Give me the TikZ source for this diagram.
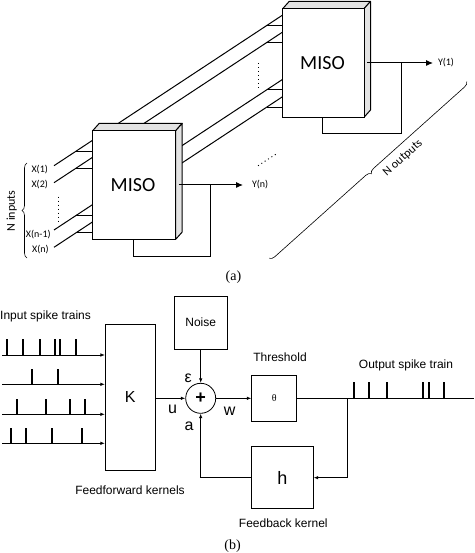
\documentclass[tikz,border=0pt]{standalone}
\usepackage{fontspec}
\setmainfont{Liberation Sans}
\newfontfamily\calibri{Carlito}
\newfontfamily\timesf{Liberation Serif}
\usetikzlibrary{arrows.meta,decorations.pathreplacing}

\tikzset{
  wire/.style={line width=1pt},
  face/.style={draw, line width=1pt, fill=gray!22, line join=round},
  outarrow/.style={wire, -{Latex[length=7pt,width=6pt]}},
  sig/.style={line width=0.8pt, -{Latex[length=4.5pt,width=3.5pt]}},
  block/.style={draw, line width=0.8pt, inner sep=0pt},
  spike/.style={line width=1.9pt},
  lbl/.style={font=\calibri\fontsize{10}{12}\selectfont, inner sep=0pt},
  txt/.style={font=\fontsize{12}{14}\selectfont, inner sep=0pt},
  letter/.style={font=\fontsize{16}{18}\selectfont, inner sep=0pt},
  dots/.style={line width=0.9pt, dash pattern=on 1pt off 3pt},
}

\begin{document}
\begin{tikzpicture}[x=1pt, y=-1pt]
  \newcommand{\MisoBox}[4]{% left, top, right, bottom
    \filldraw[face] (#1,#2) -- ++(6.5,-7.3) -- (#3+6.5,#2-7.3) -- (#3,#2) -- cycle;
    \filldraw[face] (#3,#2) -- (#3+6.5,#2-7.3) -- (#3+6.5,#4-7.3) -- (#3,#4) -- cycle;
    \draw[wire, fill=white] (#1,#2) rectangle (#3,#4);
  }
  \useasboundingbox (0,0) rectangle (474,553);

  % (a) inputs through the MISO units
  \coordinate (F1) at (92.7,130.7);
  \foreach \i/\y in {1/165.7, 2/182.7, 3/230, 4/247.3} {
    \draw[wire] (54,\y) coordinate (x\i) -- (282.7,\y-150.7) coordinate (e\i)
      coordinate[pos=0.096] (s\i) coordinate[pos=0.93] (t\i);
    \draw[wire] (s\i) -- (s\i -| F1);
    \draw[wire] (t\i) -- (t\i -| e\i);
  }
  \MisoBox{92.7}{130.7}{175.7}{239.3}
  \MisoBox{282.7}{8.7}{364}{117.3}
  \node[font=\calibri\fontsize{20}{24}\selectfont] (front) at (133,185) {MISO};
  \node[font=\calibri\fontsize{20}{24}\selectfont] (back) at (322.5,63) {MISO};

  % outputs and feedback loops
  \coordinate (fo) at (178.7,185);
  \coordinate (fy) at (243,185);
  \coordinate (fb) at (210.7,185);
  \coordinate (fl) at (133.3,256);
  \draw[outarrow] (fo) -- (fy) node[lbl, anchor=west, xshift=8.5pt] (yn) {Y(n)};
  \draw[wire] (fb) |- (fl) -- (fl |- 0,239.3);
  \coordinate (bo) at (367.3,63);
  \coordinate (by) at (433,63);
  \coordinate (bb) at (401,63);
  \coordinate (bl) at (322.7,134);
  \draw[outarrow] (bo) -- (by) node[lbl, anchor=west, xshift=4.5pt] (y1) {Y(1)};
  \draw[wire] (bb) |- (bl) -- (bl |- 0,117.3);

  \draw[dots] (58.3,196.7) -- (58.3,221);
  \draw[dots] (258.3,63) -- (258.3,89);
  \draw[dots] (258,165.7) -- (277,153.5);

  \node[lbl] (lx1) at (39.7,170) {X(1)};
  \node[lbl] (lx2) at (39.7,184.3) {X(2)};
  \node[lbl] (lx3) at (38.3,234.3) {X(n-1)};
  \node[lbl] (lx4) at (40.5,250) {X(n)};

  \draw[decorate, decoration={brace, amplitude=5pt}, line width=0.6pt] (27,258) -- (27,163);
  \node[lbl, font=\calibri\fontsize{12}{14}\selectfont, rotate=90] (nin) at (11.7,210.8) {N inputs};
  \draw[decorate, decoration={brace, amplitude=5pt}, line width=0.6pt] (466.7,81.7) -- (269.3,258.3);
  \node[lbl, font=\calibri\fontsize{12}{14}\selectfont, rotate=41.8] (nout) at (403,158) {N outputs};

  \node[font=\timesf\fontsize{14}{16}\selectfont] (capa) at (233.5,277.5) {(a)};

  % (b) spike model
  \node[block, minimum width=50pt, minimum height=145.7pt, font=\fontsize{16}{18}\selectfont] (K) at (130.3,397.2) {K};
  \node[block, txt, minimum width=53.3pt, minimum height=53.3pt] (noise) at (200.7,322.7) {Noise};
  \node[circle, draw, line width=0.8pt, minimum size=30pt, inner sep=0pt,
        font=\bfseries\fontsize{18}{18}\selectfont] (sum) at (200.7,398.3) {+};
  \node[block, minimum width=45pt, minimum height=46pt, font=\timesf\fontsize{10}{12}\selectfont] (theta) at (274.2,398.3) {θ};
  \node[block, minimum width=61.6pt, minimum height=62pt, font=\fontsize{18}{20}\selectfont] (h) at (282.5,477.7) {h};

  \foreach \n/\y/\xs in {1/355/{7.3,22.7,40,55,60,76}, 2/384.3/{31.7,58.3},
                         3/414.3/{16.7,46,70,85}, 4/443.3/{11,26,52.3,81.7}} {
    \coordinate (in\n) at (2,\y);
    \draw[sig] (in\n) -- (in\n -| K.west);
    \foreach \x in \xs
      \draw[spike] (\x,\y) -- (\x,\y-15.7);
  }

  \draw[sig] (K.east |- sum) -- (sum.west);
  \draw[sig] (noise) -- (sum);
  \draw[sig] (sum) -- (theta);
  \coordinate (out) at (474,398.3);
  \coordinate (br) at (347.7,398.3);
  \draw[line width=0.8pt] (theta) -- (out);
  \foreach \x in {354,369.3,386.7,423.3,429,444.3}
    \draw[spike] (\x,398.3) -- (\x,382.3);
  \draw[sig] (br) |- (h.east);
  \draw[sig] (h.west) -| (sum.south);

  \node[letter] (lu) at (172.5,409.2) {u};
  \node[letter] (leps) at (188.3,378.3) {ε};
  \node[letter] (la) at (189,426.3) {a};
  \node[letter] (lw) at (229.7,411.3) {w};

  \node[txt, anchor=west] (lin) at (0,316.5) {Input spike trains};
  \node[txt] (lthr) at (280,357.3) {Threshold};
  \node[txt] (lout) at (406,365) {Output spike train};
  \node[txt] (lff) at (130,490.5) {Feedforward kernels};
  \node[txt] (lfb) at (283.3,523.5) {Feedback kernel};
  \node[font=\timesf\fontsize{14}{16}\selectfont] (capb) at (232.5,546) {(b)};
\end{tikzpicture}
\end{document}
